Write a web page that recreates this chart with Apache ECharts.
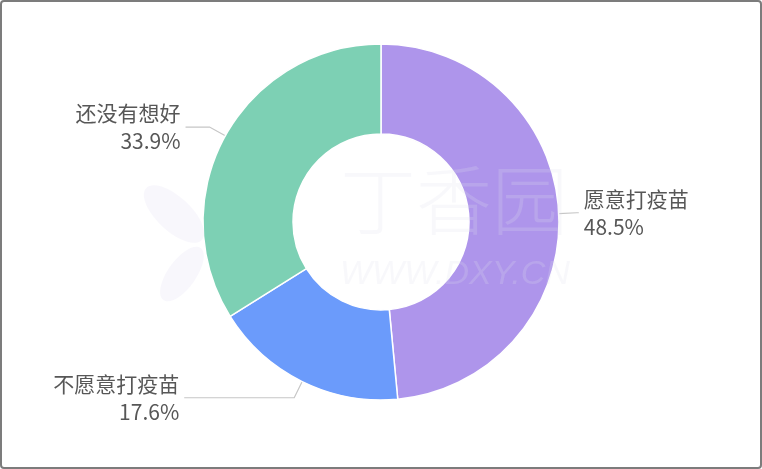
<html lang="zh">
  <head>
    <meta charset="utf-8" />
    <title>疫苗意愿</title>
    <script src="https://cdn.jsdelivr.net/npm/echarts@6/dist/echarts.min.js"></script>
    <style>
      html, body { margin: 0; padding: 0; background: #fff; }
      #main {
        width: 762px; height: 469px;
        box-sizing: border-box;
        border: 2px solid #7c7c7c;
        border-radius: 4px;
      }
    </style>
  </head>
  <body>
    <div id="main"></div>
    <script type="text/javascript">
      // values (percent)
      var names = ['愿意打疫苗', '不愿意打疫苗', '还没有想好'];
      var values = [48.5, 17.6, 33.9];
      var colors = ['#ae95eb', '#6b9bfb', '#7dd0b4'];
      var lineLen2 = [2, 110, 24];

      var chart = echarts.init(document.getElementById('main'));

      var data = names.map(function (n, i) {
        return {
          name: n,
          value: values[i],
          itemStyle: { color: colors[i] },
          labelLine: { length2: lineLen2[i] }
        };
      });

      var wm = 'rgba(225,225,235,0.22)';

      var option = {
        animation: false,
        series: [
          {
            type: 'pie',
            center: [379, 220],
            radius: [88, 178],
            startAngle: 90,
            clockwise: true,
            avoidLabelOverlap: false,
            itemStyle: { borderColor: '#fff', borderWidth: 1.5 },
            label: {
              formatter: '{b}\n{d}%',
              fontFamily: 'Noto Sans CJK SC',
              fontSize: 21,
              lineHeight: 28,
              color: '#575757'
            },
            labelLine: {
              length: 18,
              lineStyle: { color: '#c6c6c6', width: 1.2 }
            },
            data: data
          }
        ],
        graphic: [
          {
            type: 'ellipse', z: 100,
            shape: { cx: 0, cy: 0, rx: 38, ry: 17 },
            x: 172, y: 212, rotation: -0.75,
            style: { fill: 'rgba(234,232,247,0.35)' }
          },
          {
            type: 'ellipse', z: 100,
            shape: { cx: 0, cy: 0, rx: 32, ry: 14 },
            x: 180, y: 272, rotation: 0.95,
            style: { fill: 'rgba(234,232,247,0.35)' }
          },
          {
            type: 'text', z: 100,
            left: 338, top: 160,
            style: {
              text: '丁香园',
              fontFamily: 'Noto Sans CJK SC',
              fontSize: 76,
              fontWeight: 200,
              fill: wm
            }
          },
          {
            type: 'text', z: 100,
            left: 338, top: 256,
            style: {
              text: 'WWW.DXY.CN',
              fontFamily: 'Liberation Sans',
              fontSize: 34,
              fontStyle: 'italic',
              fill: wm
            }
          }
        ]
      };

      chart.setOption(option);
    </script>
  </body>
</html>
